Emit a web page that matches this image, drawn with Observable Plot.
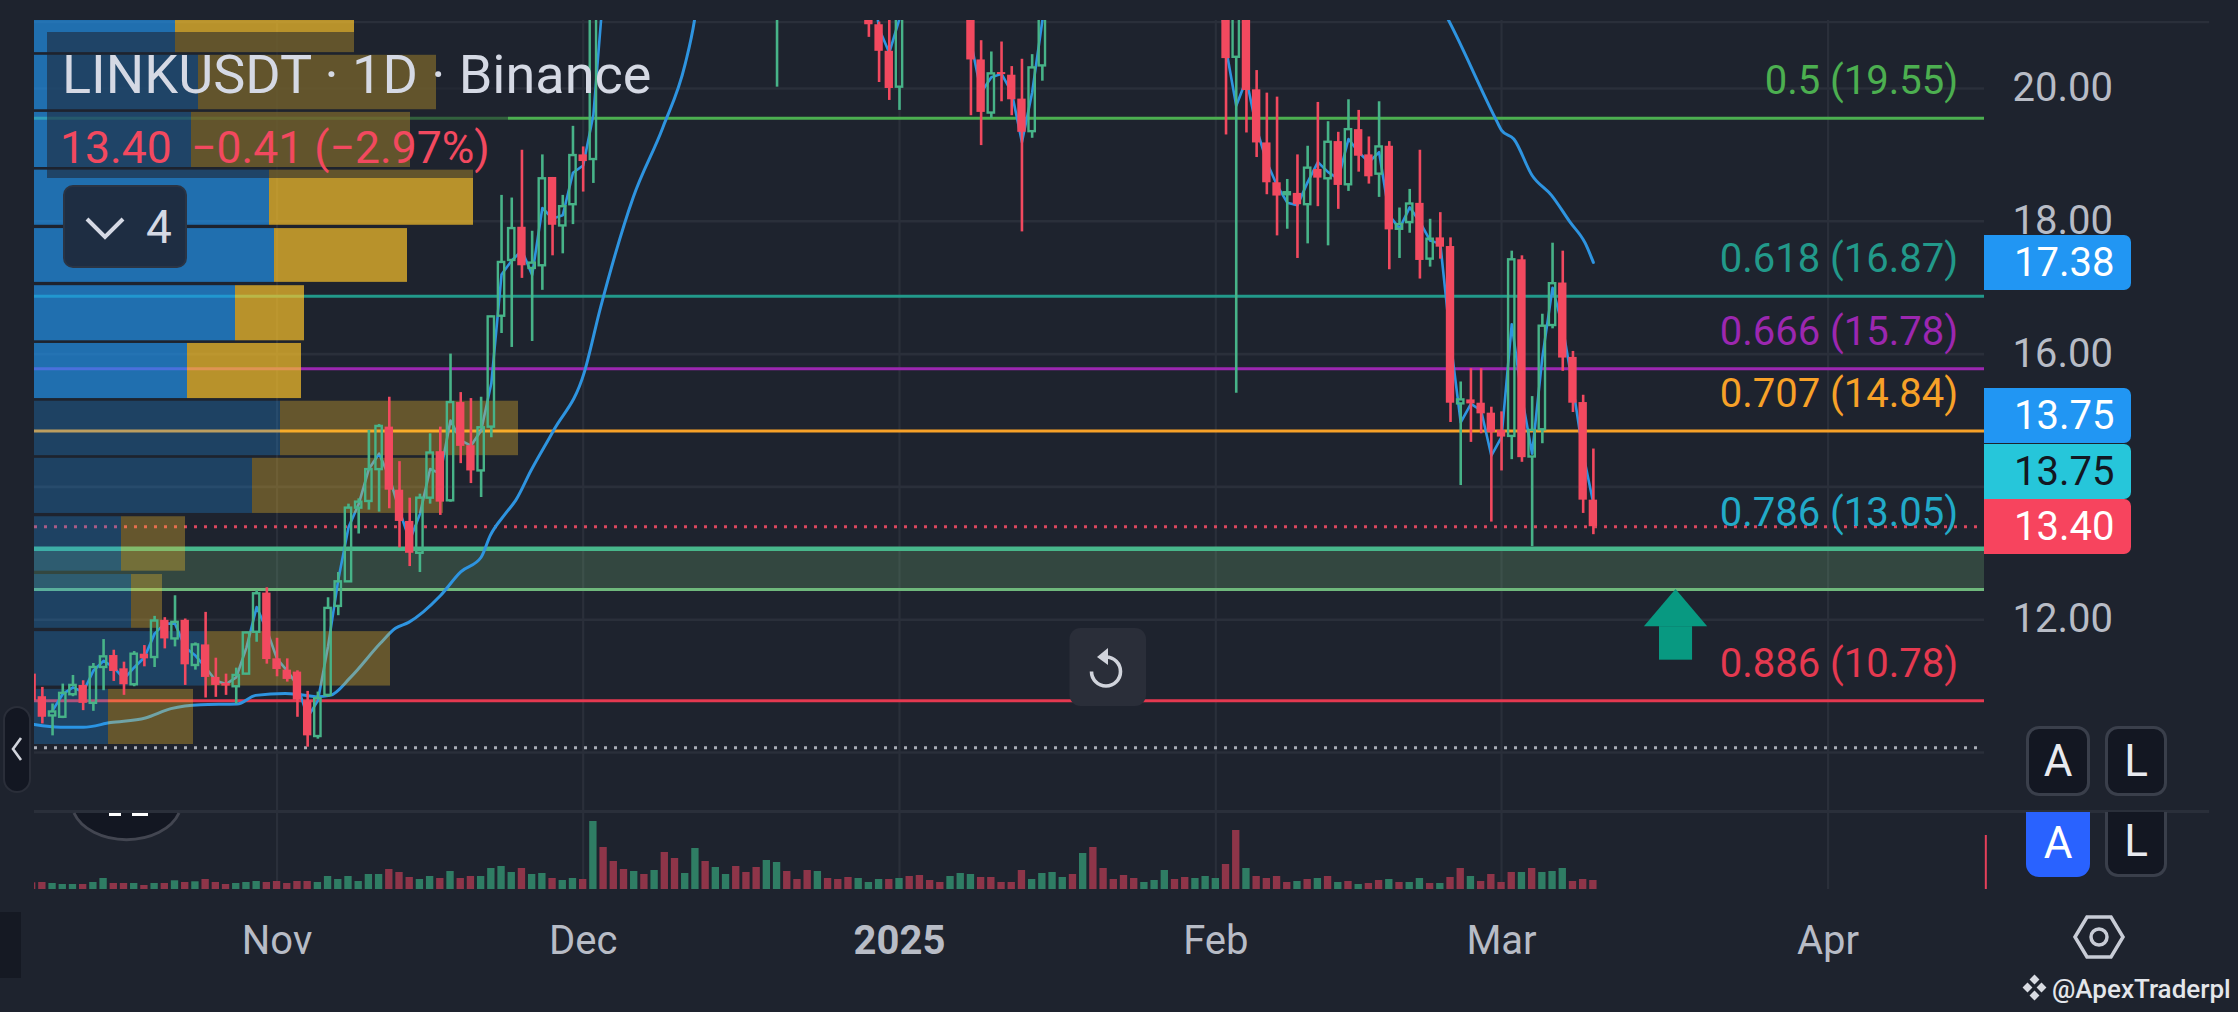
<!DOCTYPE html>
<html><head><meta charset="utf-8">
<script src="https://cdn.jsdelivr.net/npm/d3@7"></script>
<script src="https://cdn.jsdelivr.net/npm/@observablehq/plot@0.6"></script>
<style>
html,body{margin:0;padding:0;background:#1e232e;}
#wrap{position:relative;width:2238px;height:1012px;overflow:hidden;background:#1e232e;font-family:Roboto,sans-serif;}
#wrap svg.plot{display:block;}
.abs{position:absolute;}
.tag{position:absolute;left:1984px;width:147px;height:55px;border-radius:0 7px 7px 0;font-size:40px;line-height:55px;text-align:left;padding-left:30px;box-sizing:border-box;color:#fff;}
.btn{position:absolute;box-sizing:border-box;background:#131722;border:3px solid #3a3f4b;border-radius:13px;color:#e8eaf0;font-size:44px;text-align:center;}
</style></head><body><div id="wrap"><div id="plots"></div></div>
<script>
// ---- Candles (visible days only; offset in days from 1 Nov 2024) ----
const candleDay=[-24,-23,-22,-21,-20,-19,-18,-17,-16,-15,-14,-13,-12,-11,-10,-9,-8,-7,-6,-5,-4,-3,-2,-1,0,1,2,3,4,5,6,7,8,9,10,11,12,13,14,15,16,17,18,19,20,21,22,23,24,25,26,27,28,29,30,31,49,58,59,60,61,68,69,70,71,72,73,74,75,93,94,95,96,97,98,99,100,101,102,103,104,105,106,107,108,109,110,111,112,113,114,115,116,117,118,119,120,121,122,123,124,125,126,127,128,129];
const candleOpen=[11.18,10.84,10.55,10.53,10.87,11.01,10.74,11.28,11.46,11.26,11.02,11.48,11.43,11.99,11.71,11.99,11.31,11.62,11.13,11.04,10.99,11.18,11.81,12.40,11.41,11.24,11.21,10.78,10.24,10.86,12.20,12.57,13.68,13.78,14.26,14.90,13.95,13.48,13.00,13.83,14.53,13.79,15.27,14.62,14.24,14.90,16.57,17.41,17.91,17.29,17.33,18.66,17.93,18.25,19.00,18.93,21.2,22,20.96,20.56,20.02,21.4,20.43,19.63,20.24,20.2,19.84,19.35,20.34,21.2,20.47,21.2,19.98,19.18,18.58,18.40,18.42,18.25,18.78,18.64,19.20,18.55,19.38,19.00,18.71,19.13,17.88,17.98,18.27,17.43,17.75,17.62,15.25,15.31,15.26,15.11,14.85,14.76,17.42,14.45,14.86,16.43,17.07,15.95,15.27,13.80];
const candleHigh=[11.2,10.98,10.73,11.03,11.16,11.08,11.34,11.70,11.54,11.36,11.52,11.61,12.05,12.03,12.36,12.01,11.65,12.11,11.42,11.18,11.27,11.81,12.44,12.48,11.72,11.41,11.23,10.92,10.91,12.33,12.71,13.74,13.82,14.85,14.94,15.35,14.38,13.83,13.89,14.80,14.90,16.00,15.42,15.33,15.35,16.57,18.39,18.35,19.07,17.85,19.00,18.66,18.39,19.43,19.12,22,22,22.2,21.0,21.3,21.6,21.6,20.72,20.55,20.70,20.33,20.44,20.51,21.5,21.3,21.6,21.3,20.27,19.93,19.87,18.63,19.00,19.13,19.79,19.50,19.34,19.83,19.67,19.27,19.80,19.20,18.20,18.48,19.07,18.03,18.13,17.75,15.58,15.78,15.78,15.20,15.13,17.55,17.48,15.36,16.60,17.67,17.55,16.04,15.38,14.57];
const candleLow=[10.7,10.43,10.25,10.51,10.84,10.63,10.62,10.93,11.07,10.86,10.99,11.29,11.28,11.56,11.59,11.01,11.24,10.82,10.83,10.86,10.73,11.17,11.66,11.33,11.14,11.06,10.53,10.08,10.20,10.83,12.06,12.56,13.29,13.65,13.62,13.67,13.08,12.80,12.71,13.74,13.57,13.77,14.35,14.05,13.84,14.74,16.31,16.10,17.14,16.19,16.96,17.48,17.51,17.95,18.44,18.57,20.02,20.77,20.09,19.82,19.67,19.59,19.14,19.55,19.80,19.59,17.84,19.25,20.11,19.30,15.41,19.33,18.96,18.40,17.78,17.88,17.44,17.66,18.22,17.63,18.18,18.45,18.74,18.56,18.36,17.27,17.44,17.82,17.13,17.31,17.43,14.97,14.02,14.67,14.80,13.47,14.24,14.41,14.37,13.10,14.65,16.38,15.74,15.12,13.60,13.28];
const candleClose=[10.78,10.53,10.61,10.89,11.01,10.74,11.28,11.44,11.22,11.02,11.48,11.41,11.98,11.71,11.96,11.32,11.62,11.13,11.01,11.00,11.16,11.80,12.39,11.40,11.25,11.10,10.79,10.25,10.81,12.17,12.57,13.68,13.77,14.26,14.91,13.95,13.48,13.00,13.83,14.51,13.77,15.27,14.61,14.24,14.89,16.56,17.38,17.89,17.33,17.37,18.64,17.94,18.22,18.99,18.90,21.8,21.8,20.96,20.56,20.00,21.5,20.43,19.64,20.22,20.21,19.83,19.34,20.31,21.4,20.45,21.4,19.97,19.18,18.58,18.38,18.43,18.25,18.80,18.65,19.19,18.54,19.38,18.98,18.67,19.12,17.87,17.95,18.26,17.41,17.73,17.61,15.26,15.31,15.25,15.10,14.82,14.75,17.42,14.44,14.85,16.42,17.06,15.94,15.26,13.80,13.40];

// ---- Fast moving average (null = above the visible range) ----
const fastDay=[-22,-21,-20,-19,-18,-17,-16,-15,-14,-13,-12,-11,-10,-9,-8,-7,-6,-5,-4,-3,-2,-1,0,1,2,3,4,5,6,7,8,9,10,11,12,13,14,15,16,17,18,19,20,21,22,23,24,25,26,27,28,29,30,31,32,33,57,58,59,60,61,62,63,67,68,69,70,71,72,73,74,75,76,77,92,93,94,95,96,97,98,99,100,101,102,103,104,105,106,107,108,109,110,111,112,113,114,115,116,117,118,119,120,121,122,123,124,125,126,127,128,129];
const fastValue=[10.63,10.88,10.98,10.91,11.23,11.38,11.28,11.11,11.28,11.43,11.79,11.94,11.94,11.58,11.46,11.28,11.08,11.03,11.13,11.58,12.19,11.84,11.41,11.23,11.01,10.53,10.78,11.6,12.6,13.39,13.74,14.27,14.5,14.15,13.64,13.19,13.59,14.27,14.2,15.0,14.7,14.62,14.85,15.56,17.2,17.41,17.56,17.19,18.2,18.04,18.09,18.73,18.84,19.6,21.5,null,null,22,20.9,20.54,21.05,22,null,null,20.7,19.94,20.17,20.22,19.94,19.19,19.94,21.02,22,null,22,20.6,19.74,20.14,19.39,18.89,18.54,18.28,18.24,18.59,18.89,18.74,18.64,19.24,19.04,18.89,19.04,18.09,17.89,18.21,17.99,17.71,17.66,16.2,14.97,15.25,15.15,14.47,14.75,16.45,15.35,14.5,15.95,17.0,16.4,15.5,14.5,13.75];

// ---- Slow moving average ----
const slowDay=[-23.8,-21.2,-19,-16.3,-12.9,-10.4,-7.5,-3.9,-2.1,0.8,2.3,3.8,5.2,7.2,10.1,11.6,12.9,16,18,20,20.9,22.4,23.4,24.9,27.1,30.1,31.7,34.9,37.8,40,40.9,41.5,null,113.5,114.8,119.4,120,121.2,123,124.9,126.7,128.2,129];
const slowValue=[10.42,10.38,10.38,10.45,10.52,10.66,10.72,10.73,10.86,10.89,10.87,10.84,10.86,11.13,11.64,11.87,11.96,12.36,12.72,12.94,13.27,13.60,13.8,14.25,14.85,15.72,16.70,18.36,19.41,20.37,21.02,21.7,null,21.4,21.03,19.55,19.37,19.24,18.69,18.39,17.99,17.67,17.38];

// ---- Volume bars (consecutive days from day -24; 1 = up, 0 = down) ----
const volumeStartDay=-24;
const volume=[6.7,7,6,5,5,5,7,11,6,6,6,4,6,6,8.7,7,7.7,10,7,5,6,7,8,7,8,6,8,8,7,13,10,13,8,15,15,20,17,12,10,13,11,18,11,13,13,21,23,17,21,15,16,11,9,11,10,68,42,28,20,18,15,19,37,31,16,41,28,22,15,23,17,22,29,27,18,10,19,18,11,10,12,11,7,10,10,11,13,14,9,7,13,16,15,12,12,7,7,19,10,16,17,12,15,36,42,21,10,14,11,7,9,19,10,12,11,13,11,25,59,21,13,11,13,7,8,10,11,13,7,8,5,6,9,10,7,7,11,6,6,12,21,13,8,15,7,17,17,21,17,18,21,8,10,9];
const volumeUp=[0,0,1,1,1,0,1,1,0,0,1,0,1,0,1,0,1,0,0,0,1,1,1,0,0,0,0,0,1,1,1,1,1,1,1,0,0,0,1,1,0,1,0,0,1,1,1,1,0,1,1,0,1,1,0,1,0,0,0,1,0,1,0,0,1,1,0,1,1,0,0,0,1,1,0,0,0,1,0,0,0,1,1,1,0,1,0,0,0,0,1,1,1,0,0,0,0,0,1,1,1,1,0,1,0,0,0,0,0,1,1,1,0,0,1,1,1,0,0,1,0,0,0,0,1,0,1,0,1,0,1,0,0,1,0,1,1,0,1,0,0,1,0,0,0,0,1,0,1,1,1,0,0,0,0];

// ---- Volume profile rows ----
const profileHigh=[21.04,20.50,19.64,18.77,17.89,17.03,16.16,15.29,14.43,13.55,12.68,11.82,10.95];
const profileLow=[20.54,19.68,18.81,17.94,17.08,16.20,15.33,14.47,13.60,12.73,11.87,11.00,10.12];
const profileBuy=[141,164,157,235,240,201,153,246,218,87,97,172,74];
const profileTotal=[320,402,376,439,373,270,267,484,409,151,128,356,159];
const profileValueArea=[1,1,1,1,1,1,1,0,0,0,0,0,0];

// ---- Levels and axes ----
const fibRatio=["0.5","0.618","0.666","0.707","0.786","0.886"];
const fibPrice=[19.55,16.87,15.78,14.84,13.05,10.78];
const fibDrawLine=[1,1,1,1,0,1];
const supportZone=[12.455,13.07];
const lastPrice=13.40, lowLevel=10.07;
const priceGrid=[10,12,14,16,18,20];
const priceLabels=[12,16,18,20];
const monthLabels=["Nov","Dec","2025","Feb","Mar","Apr"];
const monthDays=[0,30,61,92,120,152];

// ---- Styling ----
const fibColors=["#4caf50","#22998a","#9c27b0","#f7a128","#22aac8","#e53950"];
const C={bg:"#1e232e",grid:"#2a2f3a",up:"#47b388",down:"#f2495f",ma:"#2e94e0",blue:"#2196f3",gold:"#fdc52a",axis:"#b8bcc6"};
const MS=864e5,T0=Date.UTC(2024,10,1);
const day=d=>new Date(T0+d*MS);
const LEFT=-23.77,RIGHT=167.33,PXDAY=1950/(RIGHT-LEFT);
const volX=v=>day(LEFT+v/PXDAY);
const FONT="Roboto, sans-serif";

const candles=candleDay.map((d,i)=>({date:day(d),x1:day(d-0.41),x2:day(d+0.41),hx1:day(d-0.31),hx2:day(d+0.31),open:candleOpen[i],high:candleHigh[i],low:candleLow[i],close:candleClose[i]}));
const ups=candles.filter(c=>c.close>=c.open), downs=candles.filter(c=>c.close<c.open);
const fast=fastDay.map((d,i)=>({x:day(d),y:fastValue[i]}));
const slow=slowDay.map((d,i)=>({x:d==null?null:day(d),y:slowValue[i]}));
const rows=profileHigh.map((h,i)=>({hi:h,lo:profileLow[i],buy:profileBuy[i],total:profileTotal[i],va:profileValueArea[i]}));
const vols=volume.map((v,i)=>({x1:day(volumeStartDay+i-0.36),x2:day(volumeStartDay+i+0.36),v,up:volumeUp[i]}));
const gridDates=monthDays.map(day);
const dL=day(LEFT),dR=day(RIGHT),dFar=day(189.4),labelX=day(164.75),span={x1:()=>dL,x2:()=>dR};

const arrowDay=137.1, arrowTip=12.455, arrowBase=11.895, arrowEnd=11.39;
const arrowHead=[{x:day(arrowDay-3.1),a:arrowBase,b:arrowBase},{x:day(arrowDay),a:arrowBase,b:arrowTip},{x:day(arrowDay+3.1),a:arrowBase,b:arrowBase}];

const main=Plot.plot({
  width:2238,height:811,marginLeft:34,marginRight:254,marginTop:20,marginBottom:0,
  x:{type:"utc",domain:[dL,dR],axis:null},y:{domain:[9.111,21.024]},
  style:{background:"transparent",fontFamily:FONT,overflow:"visible"},
  marks:[
    Plot.ruleX(gridDates,{stroke:C.grid,strokeWidth:2.2}),
    Plot.ruleY(priceGrid,{...span,stroke:C.grid,strokeWidth:2.6}),
    Plot.ruleY([21],{x1:()=>dL,x2:()=>dFar,stroke:C.grid,strokeWidth:2.2}),
    Plot.axisY({anchor:"right",ticks:priceLabels,tickSize:0,tickPadding:28,tickFormat:d=>d.toFixed(2),fontSize:40,fill:C.axis,label:null}),
    Plot.rect([0],{x1:()=>dL,x2:()=>dR,y1:()=>supportZone[0],y2:()=>supportZone[1],fill:"#81c784",fillOpacity:0.22}),
    ...fibPrice.map((p,i)=>fibDrawLine[i]?Plot.ruleY([p],{...span,stroke:fibColors[i],strokeWidth:3}):null).filter(Boolean),
    Plot.ruleY([supportZone[1]],{...span,stroke:"#48b78b",strokeWidth:4.5}),
    Plot.ruleY([supportZone[0]],{...span,stroke:"#6fb87c",strokeWidth:3}),
    Plot.ruleY([lastPrice],{...span,stroke:"#d9475e",strokeWidth:3,strokeDasharray:"3,7"}),
    Plot.ruleY([lowLevel],{...span,stroke:"#a9adb6",strokeWidth:3,strokeDasharray:"3,7"}),
    Plot.line(slow,{x:"x",y:"y",stroke:C.ma,strokeWidth:3,clip:"frame",curve:"monotone-x",defined:d=>d.x!=null&&d.y!=null}),
    Plot.line(fast,{x:"x",y:"y",stroke:C.ma,strokeWidth:2.6,clip:"frame",defined:d=>d.y!=null}),
    Plot.rect(rows,{filter:d=>d.va,x1:()=>volX(0),x2:d=>volX(d.buy),y1:"lo",y2:"hi",fill:C.blue,fillOpacity:0.66,clip:"frame"}),
    Plot.rect(rows,{filter:d=>d.va,x1:d=>volX(d.buy),x2:d=>volX(d.total),y1:"lo",y2:"hi",fill:C.gold,fillOpacity:0.69,clip:"frame"}),
    Plot.rect(rows,{filter:d=>!d.va,x1:()=>volX(0),x2:d=>volX(d.buy),y1:"lo",y2:"hi",fill:C.blue,fillOpacity:0.27,clip:"frame"}),
    Plot.rect(rows,{filter:d=>!d.va,x1:d=>volX(d.buy),x2:d=>volX(d.total),y1:"lo",y2:"hi",fill:C.gold,fillOpacity:0.32,clip:"frame"}),
    Plot.ruleX(downs,{x:"date",y1:"low",y2:"high",stroke:C.down,strokeWidth:2.6,clip:"frame"}),
    Plot.rect(downs,{x1:"x1",x2:"x2",y1:"close",y2:"open",fill:C.down,clip:"frame"}),
    Plot.ruleX(ups,{x:"date",y1:"low",y2:"open",stroke:C.up,strokeWidth:2.6,clip:"frame"}),
    Plot.ruleX(ups,{x:"date",y1:"close",y2:"high",stroke:C.up,strokeWidth:2.6,clip:"frame"}),
    Plot.rect(ups,{x1:"hx1",x2:"hx2",y1:"open",y2:"close",fill:"none",stroke:C.up,strokeWidth:2.4,clip:"frame"}),
    ...fibPrice.map((p,i)=>Plot.text([`${fibRatio[i]} (${p.toFixed(2)})`],{x:()=>labelX,y:()=>p,text:d=>d,fill:fibColors[i],fontSize:40,textAnchor:"end",lineAnchor:"bottom",dy:-24})),
    Plot.areaY(arrowHead,{x:"x",y1:"a",y2:"b",fill:"#089981"}),
    Plot.rect([0],{x1:()=>day(arrowDay-1.62),x2:()=>day(arrowDay+1.62),y1:()=>arrowEnd,y2:()=>arrowBase,fill:"#089981"})
  ]
});
const volPlot=Plot.plot({
  width:2238,height:201,marginLeft:34,marginRight:254,marginTop:0,marginBottom:123,
  x:{type:"utc",domain:[dL,dR]},y:{domain:[0,78],axis:null},
  style:{background:"transparent",fontFamily:FONT,overflow:"visible"},
  marks:[
    Plot.ruleX(gridDates,{stroke:C.grid,strokeWidth:2.2}),
    Plot.ruleY([78],{x1:()=>dL,x2:()=>dFar,stroke:C.grid,strokeWidth:3}),
    Plot.rect(vols,{filter:d=>d.up,x1:"x1",x2:"x2",y1:0,y2:"v",fill:"#2f7d64",clip:"frame"}),
    Plot.rect(vols,{filter:d=>!d.up,x1:"x1",x2:"x2",y1:0,y2:"v",fill:"#8e3549",clip:"frame"}),
    Plot.ruleX([dR],{x:d=>day(RIGHT+0.13),y1:0,y2:54,stroke:"#e5405a",strokeWidth:2}),
    Plot.axisX({ticks:gridDates.filter((d,i)=>i!==2),tickSize:0,tickPadding:36,fontSize:40,fill:C.axis,label:null,
      tickFormat:d=>monthLabels[gridDates.findIndex(g=>+g===+d)]}),
    Plot.axisX({ticks:[gridDates[2]],tickSize:0,tickPadding:36,fontSize:40,fontWeight:"bold",fill:C.axis,label:null,
      tickFormat:()=>monthLabels[2]})
  ]
});
document.getElementById("plots").append(main,volPlot);

// ---- Chart chrome (interface overlays) ----
const wrap=document.getElementById("wrap");
const tags=[["17.38",235,"#2196f3","#fff"],["13.75",388,"#2196f3","#fff"],["13.75",444,"#26c6da","#131722"],["13.40",499,"#f7445e","#fff"]];
let html=`<div class="abs" style="left:47px;top:32px;width:461px;height:146px;background:rgba(30,35,46,.56)"></div>
<div class="abs" style="left:62px;top:45px;font-size:54px;line-height:60px;color:#d5d9e4;white-space:pre">LINKUSDT · 1D · Binance</div>
<div class="abs" style="left:60px;top:123px;font-size:44.5px;line-height:50px;color:#f2495f;white-space:pre">13.40</div>
<div class="abs" style="left:191px;top:123px;font-size:44.5px;line-height:50px;color:#f2495f;white-space:pre">−0.41 (−2.97%)</div>
<div class="abs" style="left:63px;top:185px;width:124px;height:83px;box-sizing:border-box;background:#1e2d42;border:2px solid #2a3444;border-radius:10px"></div>
<div class="abs" style="left:146px;top:200px;font-size:46px;line-height:54px;color:#d5d9e4">4</div>
<svg class="abs" style="left:0;top:0" width="2238" height="1012" fill="none">
 <polyline points="87,219 105,237 123,219" stroke="#d5d9e4" stroke-width="4"/>
 <rect x="1069.5" y="628" width="76.5" height="78" rx="11" fill="#2a2e39"/>
 <path d="M1106 657 A14.5 14.5 0 1 1 1091.5 671.5" stroke="#d1d4dc" stroke-width="3.6"/>
 <polygon points="1108,648 1097,657 1108,665" fill="#d1d4dc"/>
 <rect x="4" y="707" width="26" height="85" rx="13" fill="#131722" stroke="#2a2e39" stroke-width="2"/>
 <polyline points="21,738 13,749 21,760" stroke="#d1d4dc" stroke-width="2.6"/>
 <rect x="0" y="912" width="21" height="66" fill="#151923"/>
 <path d="M74 813 A55 38 0 0 0 179 813 Z" fill="#131722"/>
 <path d="M74 813 A55 38 0 0 0 179 813" stroke="#434651" stroke-width="3"/>
 <rect x="109" y="813" width="12" height="3" fill="#fff"/><rect x="132" y="813" width="16" height="3" fill="#fff"/>
 <polygon points="2075,937 2087,917 2111,917 2123,937 2111,957 2087,957" stroke="#c8ccd6" stroke-width="3.5"/>
 <circle cx="2099" cy="937" r="8" stroke="#c8ccd6" stroke-width="3.5"/>
 <g fill="#d8dbe2"><rect x="2031" y="976" width="7" height="7" transform="rotate(45 2034.5 979.5)"/><rect x="2031" y="992" width="7" height="7" transform="rotate(45 2034.5 995.5)"/><rect x="2024" y="984" width="7" height="7" transform="rotate(45 2027.5 987.5)"/><rect x="2038" y="984" width="7" height="7" transform="rotate(45 2041.5 987.5)"/></g>
</svg>
<div class="abs" style="left:2052px;top:972px;font-size:26px;line-height:34px;font-weight:500;color:#e4e6ea;white-space:pre">@ApexTraderpl</div>`;
tags.forEach(t=>{html+=`<div class="tag" style="top:${t[1]}px;background:${t[2]};color:${t[3]}">${t[0]}</div>`;});
html+=`<div class="btn" style="left:2026px;top:726px;width:64px;height:70px;line-height:64px">A</div>
<div class="btn" style="left:2105px;top:726px;width:62px;height:70px;line-height:64px">L</div>
<div class="btn" style="left:2026px;top:812px;width:64px;height:65px;line-height:62px;background:#2962ff;border:none;border-radius:0 0 13px 13px;color:#fff">A</div>
<div class="btn" style="left:2105px;top:812px;width:62px;height:65px;line-height:58px;border-top:none;border-radius:0 0 13px 13px">L</div>`;
wrap.insertAdjacentHTML("beforeend",html);
</script></body></html>
